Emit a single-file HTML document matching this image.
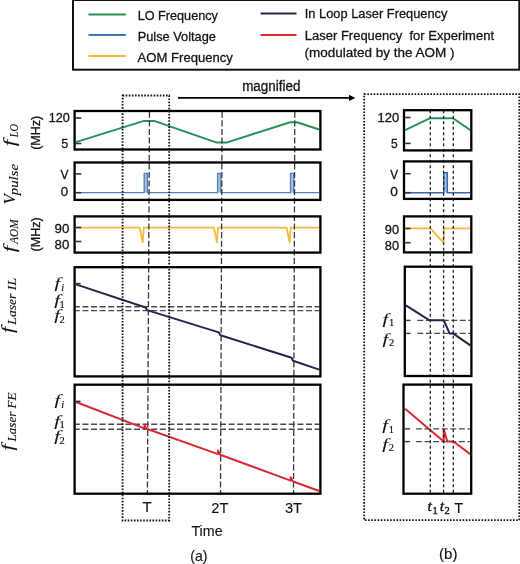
<!DOCTYPE html>
<html><head><meta charset="utf-8"><title>Figure</title>
<style>html,body{margin:0;padding:0;background:#fff;overflow:hidden;} body{width:520px;height:564px;} svg{display:block;}</style>
</head><body>
<svg width="520" height="564" viewBox="0 0 520 564">
<rect x="0" y="0" width="520" height="564" fill="#fff"/>
<rect x="73" y="0" width="446.29999999999995" height="69.7" fill="none" stroke="#111" stroke-width="2"/>
<line x1="88.5" y1="14.6" x2="125.8" y2="14.6" stroke="#2a9155" stroke-width="2" stroke-linecap="butt"/>
<line x1="88.5" y1="35" x2="125.8" y2="35" stroke="#3f78b5" stroke-width="2" stroke-linecap="butt"/>
<line x1="88.5" y1="56" x2="125.8" y2="56" stroke="#f0bb3c" stroke-width="2" stroke-linecap="butt"/>
<line x1="260.6" y1="13.6" x2="296.5" y2="13.6" stroke="#23264a" stroke-width="2" stroke-linecap="butt"/>
<line x1="260.6" y1="35" x2="296.5" y2="35" stroke="#d82a33" stroke-width="2" stroke-linecap="butt"/>
<text x="137.7" y="19.8" font-size="13.7" font-family='"Liberation Sans", Arial, sans-serif' text-anchor="start" fill="#151515" stroke="#151515" stroke-width="0.3" textLength="80.2" lengthAdjust="spacingAndGlyphs">LO Frequency</text>
<text x="137.7" y="40.6" font-size="13.7" font-family='"Liberation Sans", Arial, sans-serif' text-anchor="start" fill="#151515" stroke="#151515" stroke-width="0.3" textLength="78.3" lengthAdjust="spacingAndGlyphs">Pulse Voltage</text>
<text x="137.6" y="62.2" font-size="13.7" font-family='"Liberation Sans", Arial, sans-serif' text-anchor="start" fill="#151515" stroke="#151515" stroke-width="0.3" textLength="95.3" lengthAdjust="spacingAndGlyphs">AOM Frequency</text>
<text x="304.8" y="18.4" font-size="13.7" font-family='"Liberation Sans", Arial, sans-serif' text-anchor="start" fill="#151515" stroke="#151515" stroke-width="0.3" textLength="142.6" lengthAdjust="spacingAndGlyphs">In Loop Laser Frequency</text>
<text x="304.8" y="39.6" font-size="13.7" font-family='"Liberation Sans", Arial, sans-serif' text-anchor="start" fill="#151515" stroke="#151515" stroke-width="0.3" textLength="189.2" lengthAdjust="spacingAndGlyphs">Laser Frequency&#160; for Experiment</text>
<text x="304.4" y="57.2" font-size="13.7" font-family='"Liberation Sans", Arial, sans-serif' text-anchor="start" fill="#151515" stroke="#151515" stroke-width="0.3" textLength="150.2" lengthAdjust="spacingAndGlyphs">(modulated by the AOM )</text>
<text x="242.2" y="91.4" font-size="13.8" font-family='"Liberation Sans", Arial, sans-serif' text-anchor="start" fill="#151515" stroke="#151515" stroke-width="0.3" textLength="58.2" lengthAdjust="spacingAndGlyphs">magnified</text>
<line x1="178" y1="97.9" x2="350" y2="97.9" stroke="#000" stroke-width="1.9" stroke-linecap="butt"/>
<polygon points="349,94.8 355.3,97.9 349,101" fill="#000"/>
<line x1="75.6" y1="306.8" x2="319.4" y2="306.8" stroke="#4a4a4a" stroke-width="1.4" stroke-dasharray="6 2.6" stroke-dashoffset="1.8" stroke-linecap="butt"/>
<line x1="75.6" y1="310.6" x2="319.4" y2="310.6" stroke="#4a4a4a" stroke-width="1.4" stroke-dasharray="6 2.6" stroke-dashoffset="1.8" stroke-linecap="butt"/>
<line x1="75.6" y1="424.2" x2="319.4" y2="424.2" stroke="#4a4a4a" stroke-width="1.4" stroke-dasharray="6 2.6" stroke-dashoffset="1.8" stroke-linecap="butt"/>
<line x1="75.6" y1="429.2" x2="319.4" y2="429.2" stroke="#4a4a4a" stroke-width="1.4" stroke-dasharray="6 2.6" stroke-dashoffset="1.8" stroke-linecap="butt"/>
<line x1="405.5" y1="320.4" x2="410.5" y2="320.4" stroke="#3a3a3a" stroke-width="1.4" stroke-linecap="butt"/>
<line x1="417.3" y1="320.4" x2="470.3" y2="320.4" stroke="#4a4a4a" stroke-width="1.4" stroke-dasharray="6 2.5" stroke-linecap="butt"/>
<line x1="405.5" y1="333.4" x2="410.5" y2="333.4" stroke="#3a3a3a" stroke-width="1.4" stroke-linecap="butt"/>
<line x1="417.3" y1="333.4" x2="470.3" y2="333.4" stroke="#4a4a4a" stroke-width="1.4" stroke-dasharray="6 2.5" stroke-linecap="butt"/>
<line x1="405.0" y1="428.9" x2="410.0" y2="428.9" stroke="#3a3a3a" stroke-width="1.4" stroke-linecap="butt"/>
<line x1="415.9" y1="428.9" x2="470.3" y2="428.9" stroke="#4a4a4a" stroke-width="1.4" stroke-dasharray="6 2.6" stroke-linecap="butt"/>
<line x1="405.0" y1="441.6" x2="410.0" y2="441.6" stroke="#3a3a3a" stroke-width="1.4" stroke-linecap="butt"/>
<line x1="415.9" y1="441.6" x2="470.3" y2="441.6" stroke="#4a4a4a" stroke-width="1.4" stroke-dasharray="6 2.6" stroke-linecap="butt"/>
<polyline points="75.9,142.1 143.2,121.1 154.8,121.1 216,142.4 227.2,142.4 290.2,122.2 296.8,122.2 319.2,129.5" fill="none" stroke="#2a9155" stroke-width="2" stroke-linejoin="round" stroke-linecap="butt"/>
<rect x="144.2" y="173.3" width="3.6" height="19.3" fill="#a9c3e6"/>
<rect x="217.6" y="173.3" width="3.6" height="19.3" fill="#a9c3e6"/>
<rect x="290.5" y="173.3" width="3.6" height="19.3" fill="#a9c3e6"/>
<polyline points="75.9,192.6 144.2,192.6 144.2,173.3 147.39999999999998,173.3 147.39999999999998,192.6 217.6,192.6 217.6,173.3 220.79999999999998,173.3 220.79999999999998,192.6 290.5,192.6 290.5,173.3 293.7,173.3 293.7,192.6 319.2,192.6" fill="none" stroke="#5580ba" stroke-width="1.35" stroke-linejoin="miter" stroke-linecap="butt"/>
<polyline points="75.9,227.6 139.70000000000002,227.6 142.70000000000002,242.2 143.8,227.6 213.9,227.6 216.9,242.2 218.0,227.6 286.59999999999997,227.6 289.59999999999997,242.2 290.7,227.6 319.2,227.6" fill="none" stroke="#f0bb3c" stroke-width="1.8" stroke-linejoin="round" stroke-linecap="butt"/>
<polyline points="75.9,284.4 145.6,307.5 147.0,310.1 218.8,332.4 220.5,335.3 291.6,357.8 293.0,360.7 319.2,369.6" fill="none" stroke="#23264a" stroke-width="2" stroke-linejoin="round" stroke-linecap="butt"/>
<polyline points="75.9,402.0 144.4,428.4 144.6,424.6 146.4,428.9 148.0,429.3 218.0,454.1 218.2,450.6 220.0,454.6 221.0,455.0 290.6,480.6 290.8,477.2 292.6,481.2 293.8,481.7 319.2,491.0" fill="none" stroke="#d82a33" stroke-width="2" stroke-linejoin="round" stroke-linecap="butt"/>
<polyline points="405.1,130.2 430.1,118.2 453,118.2 470.2,130.0" fill="none" stroke="#2a9155" stroke-width="2" stroke-linejoin="round" stroke-linecap="butt"/>
<rect x="444" y="173" width="3.3" height="19.6" fill="#a9c3e6"/>
<polyline points="405.1,192.8 443.8,192.8 443.8,172.8 447.3,172.8 447.3,192.8 470.2,192.8" fill="none" stroke="#3b6aa6" stroke-width="1.5" stroke-linejoin="miter" stroke-linecap="butt"/>
<polyline points="405.1,228.3 430.4,228.3 443.5,242.6 444.0,228.3 470.2,228.3" fill="none" stroke="#f0bb3c" stroke-width="1.8" stroke-linejoin="round" stroke-linecap="butt"/>
<polyline points="405.9,305.3 429.5,320.3 443.8,320.3 449.6,333.4 453,333.4 470.3,345.4" fill="none" stroke="#23264a" stroke-width="2" stroke-linejoin="round" stroke-linecap="butt"/>
<polyline points="405.1,408.7 443.7,441.5 443.7,428.9 447.3,441.5 453.4,441.5 470.2,454.1" fill="none" stroke="#d82a33" stroke-width="2" stroke-linejoin="round" stroke-linecap="butt"/>
<line x1="149.5" y1="111.0" x2="147.4" y2="493.7" stroke="#3a3a3a" stroke-width="1.3" stroke-dasharray="6.1 2.5" stroke-dashoffset="7.9" stroke-linecap="butt"/>
<line x1="222.1" y1="111.0" x2="220.5" y2="493.7" stroke="#3a3a3a" stroke-width="1.3" stroke-dasharray="6.1 2.5" stroke-dashoffset="7.9" stroke-linecap="butt"/>
<line x1="294.8" y1="111.0" x2="293.5" y2="493.7" stroke="#3a3a3a" stroke-width="1.3" stroke-dasharray="6.1 2.5" stroke-dashoffset="7.9" stroke-linecap="butt"/>
<line x1="430.3" y1="110.2" x2="430.3" y2="493.7" stroke="#222" stroke-width="1.3" stroke-dasharray="3 2.5" stroke-linecap="butt"/>
<line x1="443.6" y1="110.2" x2="443.6" y2="493.7" stroke="#222" stroke-width="1.3" stroke-dasharray="3 2.5" stroke-linecap="butt"/>
<line x1="453.3" y1="110.2" x2="453.3" y2="493.7" stroke="#222" stroke-width="1.3" stroke-dasharray="3 2.5" stroke-linecap="butt"/>
<line x1="75.9" y1="118" x2="81.3" y2="118" stroke="#333" stroke-width="1.6" stroke-linecap="butt"/>
<line x1="75.9" y1="143.5" x2="81.3" y2="143.5" stroke="#333" stroke-width="1.6" stroke-linecap="butt"/>
<line x1="75.9" y1="173.9" x2="81.3" y2="173.9" stroke="#333" stroke-width="1.6" stroke-linecap="butt"/>
<line x1="75.9" y1="192.7" x2="81.3" y2="192.7" stroke="#333" stroke-width="1.6" stroke-linecap="butt"/>
<line x1="75.9" y1="227.5" x2="81.3" y2="227.5" stroke="#333" stroke-width="1.6" stroke-linecap="butt"/>
<line x1="75.9" y1="241.5" x2="81.3" y2="241.5" stroke="#333" stroke-width="1.6" stroke-linecap="butt"/>
<line x1="405.1" y1="117.5" x2="410.6" y2="117.5" stroke="#333" stroke-width="1.6" stroke-linecap="butt"/>
<line x1="405.1" y1="143.4" x2="410.6" y2="143.4" stroke="#333" stroke-width="1.6" stroke-linecap="butt"/>
<line x1="405.1" y1="173.7" x2="410.6" y2="173.7" stroke="#333" stroke-width="1.6" stroke-linecap="butt"/>
<line x1="405.1" y1="192.7" x2="410.6" y2="192.7" stroke="#333" stroke-width="1.6" stroke-linecap="butt"/>
<line x1="405.1" y1="228.5" x2="410.6" y2="228.5" stroke="#333" stroke-width="1.6" stroke-linecap="butt"/>
<line x1="405.1" y1="242.7" x2="410.6" y2="242.7" stroke="#333" stroke-width="1.6" stroke-linecap="butt"/>
<line x1="75.9" y1="283.6" x2="80.6" y2="283.6" stroke="#333" stroke-width="1.6" stroke-linecap="butt"/>
<line x1="75.9" y1="401.4" x2="80.6" y2="401.4" stroke="#333" stroke-width="1.6" stroke-linecap="butt"/>
<rect x="74.6" y="111.0" width="245.79999999999998" height="38.5" fill="none" stroke="#000" stroke-width="2.3"/>
<rect x="74.6" y="162.5" width="245.79999999999998" height="37.400000000000006" fill="none" stroke="#000" stroke-width="2.3"/>
<rect x="74.6" y="216.4" width="245.79999999999998" height="36.19999999999999" fill="none" stroke="#000" stroke-width="2.3"/>
<rect x="74.6" y="267.2" width="245.79999999999998" height="109.19999999999999" fill="none" stroke="#000" stroke-width="2.3"/>
<rect x="74.6" y="384.7" width="245.79999999999998" height="109.0" fill="none" stroke="#000" stroke-width="2.3"/>
<rect x="404.0" y="110.2" width="67.30000000000001" height="40.2" fill="none" stroke="#000" stroke-width="2.3"/>
<rect x="404.0" y="161.4" width="67.30000000000001" height="37.5" fill="none" stroke="#000" stroke-width="2.3"/>
<rect x="404.0" y="216.4" width="67.30000000000001" height="36.0" fill="none" stroke="#000" stroke-width="2.3"/>
<rect x="404.8" y="266.7" width="66.59999999999997" height="109.30000000000001" fill="none" stroke="#000" stroke-width="2.3"/>
<rect x="403.5" y="384.6" width="67.69999999999999" height="109.09999999999997" fill="none" stroke="#000" stroke-width="2.3"/>
<rect x="122.6" y="95.5" width="46.599999999999994" height="425.0" fill="none" stroke="#111" stroke-width="1.8" stroke-dasharray="1.6 1.5"/>
<rect x="364.2" y="94.1" width="155.09999999999997" height="426.1" fill="none" stroke="#111" stroke-width="1.8" stroke-dasharray="1.6 1.55"/>
<text x="48.7" y="122.1" font-size="13" font-family='"Liberation Sans", Arial, sans-serif' text-anchor="start" fill="#151515" stroke="#151515" stroke-width="0.3" textLength="21" lengthAdjust="spacingAndGlyphs">120</text>
<text x="61.3" y="148.2" font-size="13" font-family='"Liberation Sans", Arial, sans-serif' text-anchor="start" fill="#151515" stroke="#151515" stroke-width="0.3" textLength="7" lengthAdjust="spacingAndGlyphs">5</text>
<text x="60.6" y="179.1" font-size="13" font-family='"Liberation Sans", Arial, sans-serif' text-anchor="start" fill="#151515" stroke="#151515" stroke-width="0.3" textLength="8" lengthAdjust="spacingAndGlyphs">V</text>
<text x="60.8" y="196.0" font-size="13" font-family='"Liberation Sans", Arial, sans-serif' text-anchor="start" fill="#151515" stroke="#151515" stroke-width="0.3" textLength="7.4" lengthAdjust="spacingAndGlyphs">0</text>
<text x="54.6" y="233.1" font-size="13" font-family='"Liberation Sans", Arial, sans-serif' text-anchor="start" fill="#151515" stroke="#151515" stroke-width="0.3" textLength="14.8" lengthAdjust="spacingAndGlyphs">90</text>
<text x="54.6" y="248.8" font-size="13" font-family='"Liberation Sans", Arial, sans-serif' text-anchor="start" fill="#151515" stroke="#151515" stroke-width="0.3" textLength="14.8" lengthAdjust="spacingAndGlyphs">80</text>
<text x="377.6" y="121.9" font-size="13" font-family='"Liberation Sans", Arial, sans-serif' text-anchor="start" fill="#151515" stroke="#151515" stroke-width="0.3" textLength="21.8" lengthAdjust="spacingAndGlyphs">120</text>
<text x="391.0" y="148.2" font-size="13" font-family='"Liberation Sans", Arial, sans-serif' text-anchor="start" fill="#151515" stroke="#151515" stroke-width="0.3" textLength="6.7" lengthAdjust="spacingAndGlyphs">5</text>
<text x="390.2" y="179.1" font-size="13" font-family='"Liberation Sans", Arial, sans-serif' text-anchor="start" fill="#151515" stroke="#151515" stroke-width="0.3" textLength="7.8" lengthAdjust="spacingAndGlyphs">V</text>
<text x="390.2" y="196.3" font-size="13" font-family='"Liberation Sans", Arial, sans-serif' text-anchor="start" fill="#151515" stroke="#151515" stroke-width="0.3" textLength="7.6" lengthAdjust="spacingAndGlyphs">0</text>
<text x="384.8" y="233.9" font-size="13" font-family='"Liberation Sans", Arial, sans-serif' text-anchor="start" fill="#151515" stroke="#151515" stroke-width="0.3" textLength="14.3" lengthAdjust="spacingAndGlyphs">90</text>
<text x="384.8" y="249.9" font-size="13" font-family='"Liberation Sans", Arial, sans-serif' text-anchor="start" fill="#151515" stroke="#151515" stroke-width="0.3" textLength="14.3" lengthAdjust="spacingAndGlyphs">80</text>
<g transform="translate(14.5,146.6) rotate(-90)"><g transform="translate(0.3,0) scale(1.35,1)"><text x="0" y="0" font-size="16.8" font-family='"Liberation Serif", "Times New Roman", serif' font-style="italic" stroke="#111" stroke-width="0.12" fill="#111">f</text></g><g transform="translate(9.3,3.5) scale(1.0,1)"><text x="0" y="0" font-size="12.5" font-family='"Liberation Serif", "Times New Roman", serif' font-style="italic" textLength="13.2" lengthAdjust="spacingAndGlyphs" stroke="#111" stroke-width="0.12" fill="#111">LO</text></g></g>
<g transform="translate(40.1,149.8) rotate(-90)"><g transform="translate(0,0) scale(1.0,1)"><text x="0" y="0" font-size="13.5" font-family='"Liberation Sans", Arial, sans-serif' textLength="34.1" lengthAdjust="spacingAndGlyphs" stroke="#111" stroke-width="0.3" fill="#111">(MHz)</text></g></g>
<g transform="translate(15.1,204.3) rotate(-90)"><g transform="translate(0,0) scale(1.0,1)"><text x="0" y="0" font-size="17.7" font-family='"Liberation Serif", "Times New Roman", serif' font-style="italic" textLength="10.0" lengthAdjust="spacingAndGlyphs" stroke="#111" stroke-width="0.12" fill="#111">V</text></g><g transform="translate(9.0,2.7) scale(1.0,1)"><text x="0" y="0" font-size="12.4" font-family='"Liberation Serif", "Times New Roman", serif' font-style="italic" textLength="31.4" lengthAdjust="spacingAndGlyphs" stroke="#111" stroke-width="0.12" fill="#111">pulse</text></g></g>
<g transform="translate(14.5,252.6) rotate(-90)"><g transform="translate(0.3,0) scale(1.35,1)"><text x="0" y="0" font-size="16.8" font-family='"Liberation Serif", "Times New Roman", serif' font-style="italic" stroke="#111" stroke-width="0.12" fill="#111">f</text></g><g transform="translate(8.8,3.0) scale(1.0,1)"><text x="0" y="0" font-size="11.8" font-family='"Liberation Serif", "Times New Roman", serif' font-style="italic" textLength="24.3" lengthAdjust="spacingAndGlyphs" stroke="#111" stroke-width="0.12" fill="#111">AOM</text></g></g>
<g transform="translate(40.1,251.4) rotate(-90)"><g transform="translate(0,0) scale(1.0,1)"><text x="0" y="0" font-size="13.5" font-family='"Liberation Sans", Arial, sans-serif' textLength="34.1" lengthAdjust="spacingAndGlyphs" stroke="#111" stroke-width="0.3" fill="#111">(MHz)</text></g></g>
<g transform="translate(12.5,333.2) rotate(-90)"><g transform="translate(0.2,0) scale(1.35,1)"><text x="0" y="0" font-size="16.3" font-family='"Liberation Serif", "Times New Roman", serif' font-style="italic" stroke="#111" stroke-width="0.12" fill="#111">f</text></g><g transform="translate(8.5,3.4) scale(1.0,1)"><text x="0" y="0" font-size="12.7" font-family='"Liberation Serif", "Times New Roman", serif' font-style="italic" textLength="46.7" lengthAdjust="spacingAndGlyphs" stroke="#111" stroke-width="0.12" fill="#111">Laser IL</text></g></g>
<g transform="translate(12.5,450.7) rotate(-90)"><g transform="translate(0.2,0) scale(1.35,1)"><text x="0" y="0" font-size="16.3" font-family='"Liberation Serif", "Times New Roman", serif' font-style="italic" stroke="#111" stroke-width="0.12" fill="#111">f</text></g><g transform="translate(9.2,3.4) scale(1.0,1)"><text x="0" y="0" font-size="12.7" font-family='"Liberation Serif", "Times New Roman", serif' font-style="italic" textLength="49" lengthAdjust="spacingAndGlyphs" stroke="#111" stroke-width="0.12" fill="#111">Laser FE</text></g></g>
<g transform="translate(54.6,288.3) scale(1.35,1)"><text x="0" y="0" font-size="15.5" font-family='"Liberation Serif", "Times New Roman", serif' font-style="italic" fill="#111" stroke="#111" stroke-width="0.08">f</text></g>
<text x="61.2" y="291.0" font-size="10.5" font-family='"Liberation Serif", "Times New Roman", serif' font-style="italic" fill="#111" stroke="#111" stroke-width="0.15">i</text>
<g transform="translate(54.2,305.3) scale(1.35,1)"><text x="0" y="0" font-size="15.5" font-family='"Liberation Serif", "Times New Roman", serif' font-style="italic" fill="#111" stroke="#111" stroke-width="0.08">f</text></g>
<text x="59.400000000000006" y="308.0" font-size="10.5" font-family='"Liberation Serif", "Times New Roman", serif' font-style="normal" fill="#111" stroke="#111" stroke-width="0.15">1</text>
<g transform="translate(54.2,320.3) scale(1.35,1)"><text x="0" y="0" font-size="15.5" font-family='"Liberation Serif", "Times New Roman", serif' font-style="italic" fill="#111" stroke="#111" stroke-width="0.08">f</text></g>
<text x="59.400000000000006" y="322.90000000000003" font-size="10.5" font-family='"Liberation Serif", "Times New Roman", serif' font-style="normal" fill="#111" stroke="#111" stroke-width="0.15">2</text>
<g transform="translate(54.6,405.0) scale(1.35,1)"><text x="0" y="0" font-size="15.5" font-family='"Liberation Serif", "Times New Roman", serif' font-style="italic" fill="#111" stroke="#111" stroke-width="0.08">f</text></g>
<text x="61.2" y="407.7" font-size="10.5" font-family='"Liberation Serif", "Times New Roman", serif' font-style="italic" fill="#111" stroke="#111" stroke-width="0.15">i</text>
<g transform="translate(54.2,425.5) scale(1.35,1)"><text x="0" y="0" font-size="15.5" font-family='"Liberation Serif", "Times New Roman", serif' font-style="italic" fill="#111" stroke="#111" stroke-width="0.08">f</text></g>
<text x="59.400000000000006" y="428.4" font-size="10.5" font-family='"Liberation Serif", "Times New Roman", serif' font-style="normal" fill="#111" stroke="#111" stroke-width="0.15">1</text>
<g transform="translate(54.2,441.0) scale(1.35,1)"><text x="0" y="0" font-size="15.5" font-family='"Liberation Serif", "Times New Roman", serif' font-style="italic" fill="#111" stroke="#111" stroke-width="0.08">f</text></g>
<text x="59.400000000000006" y="443.9" font-size="10.5" font-family='"Liberation Serif", "Times New Roman", serif' font-style="normal" fill="#111" stroke="#111" stroke-width="0.15">2</text>
<g transform="translate(382.6,323.6) scale(1.35,1)"><text x="0" y="0" font-size="15.5" font-family='"Liberation Serif", "Times New Roman", serif' font-style="italic" fill="#111" stroke="#111" stroke-width="0.08">f</text></g>
<text x="389.1" y="326.1" font-size="10.5" font-family='"Liberation Serif", "Times New Roman", serif' font-style="normal" fill="#111" stroke="#111" stroke-width="0.15">1</text>
<g transform="translate(382.6,343.5) scale(1.35,1)"><text x="0" y="0" font-size="15.5" font-family='"Liberation Serif", "Times New Roman", serif' font-style="italic" fill="#111" stroke="#111" stroke-width="0.08">f</text></g>
<text x="389.1" y="345.5" font-size="10.5" font-family='"Liberation Serif", "Times New Roman", serif' font-style="normal" fill="#111" stroke="#111" stroke-width="0.15">2</text>
<g transform="translate(382.3,430.3) scale(1.35,1)"><text x="0" y="0" font-size="15.5" font-family='"Liberation Serif", "Times New Roman", serif' font-style="italic" fill="#111" stroke="#111" stroke-width="0.08">f</text></g>
<text x="388.8" y="432.7" font-size="10.5" font-family='"Liberation Serif", "Times New Roman", serif' font-style="normal" fill="#111" stroke="#111" stroke-width="0.15">1</text>
<g transform="translate(382.3,448.9) scale(1.35,1)"><text x="0" y="0" font-size="15.5" font-family='"Liberation Serif", "Times New Roman", serif' font-style="italic" fill="#111" stroke="#111" stroke-width="0.08">f</text></g>
<text x="388.8" y="451.09999999999997" font-size="10.5" font-family='"Liberation Serif", "Times New Roman", serif' font-style="normal" fill="#111" stroke="#111" stroke-width="0.15">2</text>
<text x="142.5" y="511.6" font-size="15" font-family='"Liberation Sans", Arial, sans-serif' text-anchor="start" fill="#151515" stroke="#151515" stroke-width="0.15" textLength="9.2" lengthAdjust="spacingAndGlyphs">T</text>
<text x="211.3" y="512.7" font-size="15" font-family='"Liberation Sans", Arial, sans-serif' text-anchor="start" fill="#151515" stroke="#151515" stroke-width="0.15" textLength="17.0" lengthAdjust="spacingAndGlyphs">2T</text>
<text x="284.9" y="512.9" font-size="15" font-family='"Liberation Sans", Arial, sans-serif' text-anchor="start" fill="#151515" stroke="#151515" stroke-width="0.15" textLength="17.0" lengthAdjust="spacingAndGlyphs">3T</text>
<text x="191.4" y="536.2" font-size="15" font-family='"Liberation Sans", Arial, sans-serif' text-anchor="start" fill="#151515" stroke="#151515" stroke-width="0.15" textLength="31.2" lengthAdjust="spacingAndGlyphs">Time</text>
<text x="190.3" y="560.6" font-size="14.2" font-family='"Liberation Sans", Arial, sans-serif' text-anchor="start" fill="#151515" stroke="#151515" stroke-width="0.15" textLength="17.2" lengthAdjust="spacingAndGlyphs">(a)</text>
<text x="439.0" y="559.3" font-size="14.2" font-family='"Liberation Sans", Arial, sans-serif' text-anchor="start" fill="#151515" stroke="#151515" stroke-width="0.15" textLength="18.4" lengthAdjust="spacingAndGlyphs">(b)</text>
<text x="427.6" y="511" font-size="15.5" font-family='"Liberation Serif", "Times New Roman", serif' font-style="italic" fill="#111" stroke="#111" stroke-width="0.35">t</text>
<text x="432.6" y="513.6" font-size="10.5" font-family='"Liberation Serif", "Times New Roman", serif' fill="#111" stroke="#111" stroke-width="0.3">1</text>
<text x="439.8" y="511" font-size="15.5" font-family='"Liberation Serif", "Times New Roman", serif' font-style="italic" fill="#111" stroke="#111" stroke-width="0.35">t</text>
<text x="444.6" y="513.6" font-size="10.5" font-family='"Liberation Serif", "Times New Roman", serif' fill="#111" stroke="#111" stroke-width="0.3">2</text>
<text x="454.3" y="512.7" font-size="14.6" font-family='"Liberation Sans", Arial, sans-serif' text-anchor="start" fill="#151515" stroke="#151515" stroke-width="0.15" textLength="8.9" lengthAdjust="spacingAndGlyphs">T</text>
</svg>
</body></html>
